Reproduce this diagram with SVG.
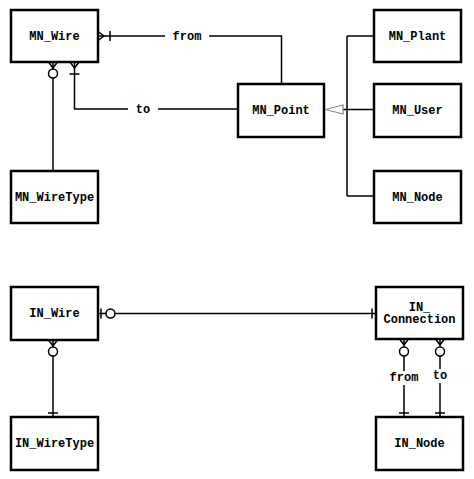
<svg xmlns="http://www.w3.org/2000/svg" width="474" height="479" viewBox="0 0 474 479">
<style>
.box{fill:#fff;stroke:#000;stroke-width:2.5}
.t{font-family:"Liberation Mono","DejaVu Sans Mono",monospace;font-weight:bold;font-size:12px;text-anchor:middle;fill:#000}
.c{fill:none;stroke:#000;stroke-width:1.5}
.o{fill:#fff;stroke:#000;stroke-width:1.5}
.g{fill:#fff;stroke:#888;stroke-width:1.2}
</style>
<rect width="474" height="479" fill="#fff"/>
<g id="connectors">
  <path class="c" d="M98,36 H165 M209,36 H281.5 V84"/>
  <path class="c" d="M98,31.5 L104,36 L98,40.5 M110,31 V41"/>
  <text class="t" x="187" y="40">from</text>
  <path class="c" d="M74.5,62 V109 H128 M158,109 H238"/>
  <path class="c" d="M70,62 L74.5,68 L79,62 M69.5,74 H79.5"/>
  <text class="t" x="143" y="113">to</text>
  <path class="c" d="M53,62 V171"/>
  <path class="c" d="M48.5,62 L53,68 L57.5,62"/>
  <circle class="o" cx="53" cy="73.5" r="4.5"/>
  <path class="c" d="M343,109.5 H374 M347,36 V196 M347,36 H374 M347,196 H374"/>
  <polygon class="g" points="325.5,109.5 343,105 343,114"/>
  <path class="c" d="M98,313.5 H376 M101,308.5 V318.5 M372,308.5 V318.5"/>
  <circle class="o" cx="110.5" cy="313.5" r="4.5"/>
  <path class="c" d="M53,340 V417 M48.5,340 L53,346 L57.5,340 M48,413 H58"/>
  <circle class="o" cx="53" cy="351.5" r="4.5"/>
  <path class="c" d="M404,339 V371 M404,385 V417 M399.5,339 L404,345 L408.5,339 M399,413 H409"/>
  <circle class="o" cx="404" cy="351.5" r="4.5"/>
  <text class="t" x="404" y="381">from</text>
  <path class="c" d="M440,339 V369 M440,383 V417 M435.5,339 L440,345 L444.5,339 M435,413 H445"/>
  <circle class="o" cx="440" cy="351.5" r="4.5"/>
  <text class="t" x="440" y="379">to</text>
</g>
<g id="MN_Wire"><rect class="box" x="11" y="10" width="87" height="52"/><text class="t" x="54.5" y="39.5">MN_Wire</text></g>
<g id="MN_WireType"><rect class="box" x="11" y="171" width="87" height="52"/><text class="t" x="54.5" y="200.5">MN_WireType</text></g>
<g id="MN_Point"><rect class="box" x="238" y="84" width="86" height="53"/><text class="t" x="281" y="113.5">MN_Point</text></g>
<g id="MN_Plant"><rect class="box" x="374" y="10" width="87" height="52"/><text class="t" x="417.5" y="39.5">MN_Plant</text></g>
<g id="MN_User"><rect class="box" x="374" y="84" width="87" height="53"/><text class="t" x="417.5" y="113.5">MN_User</text></g>
<g id="MN_Node"><rect class="box" x="374" y="171" width="87" height="52"/><text class="t" x="417.5" y="200.5">MN_Node</text></g>
<g id="IN_Wire"><rect class="box" x="11" y="287" width="87" height="53"/><text class="t" x="54.5" y="317">IN_Wire</text></g>
<g id="IN_WireType"><rect class="box" x="11" y="417" width="87" height="53"/><text class="t" x="54.5" y="447">IN_WireType</text></g>
<g id="IN_Connection"><rect class="box" x="376" y="287" width="87" height="52"/><text class="t" x="419.5" y="310.5">IN_</text><text class="t" x="419.5" y="323">Connection</text></g>
<g id="IN_Node"><rect class="box" x="376" y="417" width="87" height="53"/><text class="t" x="419.5" y="447">IN_Node</text></g>
</svg>
